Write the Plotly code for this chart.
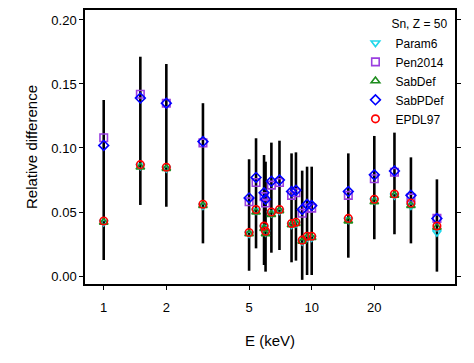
import plotly.graph_objects as go

# ---- data ----
energy_keV = [1, 1.5, 2, 3, 5, 5.4, 5.9, 6.0, 6.4, 7.0, 8.0, 8.4, 9.0, 9.5, 10, 15, 20, 25, 30, 40]

param6 = [0.042, 0.086, 0.084, 0.055, 0.033, 0.051, 0.038, 0.034, 0.049, 0.051, 0.040, 0.041, 0.027, 0.030, 0.030, 0.044, 0.059, 0.063, 0.055, 0.034]
pen2014 = [0.108, 0.142, 0.135, 0.104, 0.058, 0.073, 0.062, 0.057, 0.071, 0.073, 0.063, 0.065, 0.049, 0.053, 0.053, 0.063, 0.076, 0.081, 0.061, 0.045]
sabdef = [0.042, 0.085, 0.084, 0.055, 0.033, 0.050, 0.037, 0.033, 0.048, 0.051, 0.040, 0.041, 0.027, 0.030, 0.030, 0.043, 0.058, 0.063, 0.055, 0.038]
sabpdef = [0.102, 0.139, 0.135, 0.105, 0.061, 0.077, 0.065, 0.060, 0.074, 0.075, 0.066, 0.067, 0.052, 0.056, 0.055, 0.066, 0.079, 0.082, 0.063, 0.045]
epdl97 = [0.043, 0.087, 0.085, 0.056, 0.034, 0.052, 0.039, 0.035, 0.050, 0.052, 0.041, 0.042, 0.028, 0.031, 0.031, 0.045, 0.060, 0.064, 0.057, 0.039]

err_high = [0.1375, 0.1713, 0.1656, 0.135, 0.0912, 0.1076, 0.0945, 0.0893, 0.1042, 0.1057, 0.0958, 0.0966, 0.0823, 0.0854, 0.0854, 0.0958, 0.1094, 0.112, 0.0927, 0.0755]
err_low = [0.0125, 0.0555, 0.0541, 0.0255, 0.0041, 0.0216, 0.0086, 0.0034, 0.0182, 0.0203, 0.0107, 0.012, -0.003, 0.0008, 0.0008, 0.0143, 0.0287, 0.0326, 0.0255, 0.0034]

x_tickvals = [1, 2, 5, 10, 20]
x_ticktext = ["1", "2", "5", "10", "20"]
y_tickvals = [0.0, 0.05, 0.10, 0.15, 0.20]
y_ticktext = ["0.00", "0.05", "0.10", "0.15", "0.20"]

FONT = "Liberation Sans, Arial, Helvetica, sans-serif"

fig = go.Figure()

# error bars (uncertainty ranges)
fig.add_trace(go.Scatter(
    x=energy_keV, y=epdl97, mode="markers",
    marker=dict(size=1, color="rgba(0,0,0,0)"),
    error_y=dict(type="data", symmetric=False,
                 array=[h - v for h, v in zip(err_high, epdl97)],
                 arrayminus=[v - l for l, v in zip(err_low, epdl97)],
                 color="black", thickness=2.6, width=0),
    showlegend=False, hoverinfo="skip"))

series = [
    ("Param6", param6, "triangle-down-open", "#22d8ea"),
    ("Pen2014", pen2014, "square-open", "#9a3fe0"),
    ("SabDef", sabdef, "triangle-up-open", "#1e8c1e"),
    ("SabPDef", sabpdef, "diamond-open", "#0000ff"),
    ("EPDL97", epdl97, "circle-open", "#ff0000"),
]
for name, vals, sym, col in series:
    fig.add_trace(go.Scatter(
        x=energy_keV, y=vals, mode="markers", name=name,
        marker=dict(symbol=sym, size=7.5, color=col, line=dict(width=1.6, color=col))))

# the page body adds an 8px margin, so the figure is sized to fit inside it
fig.update_layout(
    width=458, height=347,
    margin=dict(l=77, r=11, t=2, b=71, autoexpand=False),
    paper_bgcolor="white", plot_bgcolor="white",
    font=dict(family=FONT, size=13, color="black"),
    legend=dict(
        x=0.985, y=0.99, xanchor="right", yanchor="top",
        bgcolor="rgba(0,0,0,0)", borderwidth=0,
        font=dict(size=12),
        title=dict(text="Sn, Z = 50", side="top right", font=dict(size=12)),
        itemwidth=30,
    ),
)
fig.update_xaxes(
    type="log", range=[-0.09, 1.689],
    tickvals=x_tickvals, ticktext=x_ticktext,
    ticks="outside", ticklen=4, tickwidth=1.2, tickcolor="black",
    showline=True, linecolor="black", linewidth=1.5, mirror="ticks",
    showgrid=False, zeroline=False, automargin=False,
    ticklabelstandoff=7,
    title=dict(text="E (keV)", font=dict(size=15), standoff=21),
)
fig.update_yaxes(
    range=[-0.00625, 0.2078],
    tickvals=y_tickvals, ticktext=y_ticktext,
    ticks="outside", ticklen=4, tickwidth=1.2, tickcolor="black",
    showline=True, linecolor="black", linewidth=1.5, mirror="ticks",
    showgrid=False, zeroline=False, automargin=False,
    title=dict(text="Relative difference", font=dict(size=15), standoff=10),
)

fig.write_html("out.html")
